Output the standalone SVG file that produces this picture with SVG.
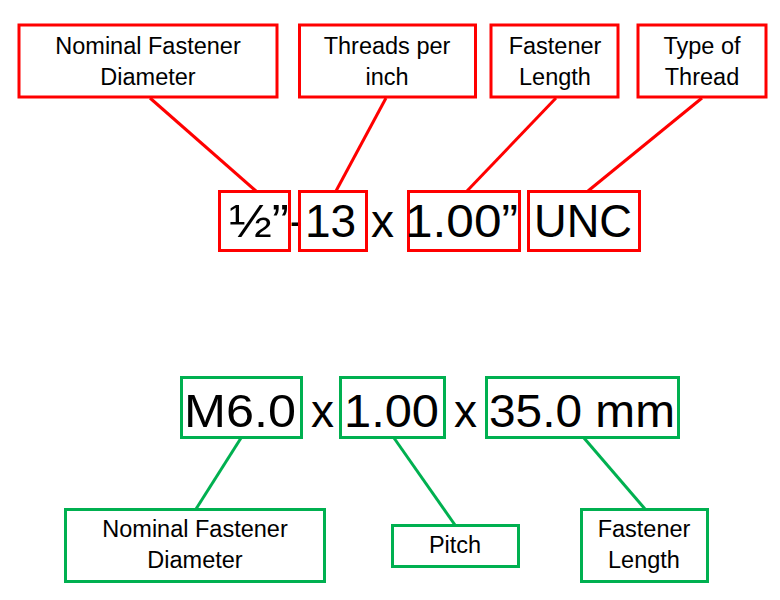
<svg xmlns="http://www.w3.org/2000/svg" width="780" height="600" viewBox="0 0 780 600">
<style>
.r{fill:#fff;stroke:#FF0000;stroke-width:3}
.g{fill:#fff;stroke:#00B050;stroke-width:3}
.vr{fill:none;stroke:#FF0000;stroke-width:3}
.vg{fill:none;stroke:#00B050;stroke-width:3}
.lr{stroke:#FF0000;stroke-width:3}
.lg{stroke:#00B050;stroke-width:3}
.s{font-family:"Liberation Sans",Arial,sans-serif;font-size:23.5px;fill:#000;text-anchor:middle}
.b{font-family:"Liberation Sans",Arial,sans-serif;font-size:46px;fill:#000}
</style>
<rect width="780" height="600" fill="#fff"/>
<g id="connectors">
<line class="lr" x1="150" y1="98" x2="256" y2="191"/>
<line class="lr" x1="386" y1="98" x2="336" y2="191"/>
<line class="lr" x1="556" y1="98" x2="467" y2="191"/>
<line class="lr" x1="702" y1="98" x2="588" y2="191"/>
<line class="lg" x1="241" y1="438" x2="196" y2="509"/>
<line class="lg" x1="394" y1="438" x2="455" y2="525"/>
<line class="lg" x1="584" y1="438" x2="645" y2="509"/>
</g>
<g id="label-nominal-top"><rect class="r" x="19" y="25" width="258" height="72"/><text class="s" x="148" y="54">Nominal Fastener</text><text class="s" x="148" y="85">Diameter</text></g>
<g id="label-threads"><rect class="r" x="299.5" y="25" width="176" height="72"/><text class="s" x="387" y="54">Threads per</text><text class="s" x="387" y="85">inch</text></g>
<g id="label-length-top"><rect class="r" x="491" y="25" width="127" height="72"/><text class="s" x="555" y="54">Fastener</text><text class="s" x="555" y="85">Length</text></g>
<g id="label-type"><rect class="r" x="638" y="25" width="128" height="72"/><text class="s" x="702" y="54">Type of</text><text class="s" x="702" y="85">Thread</text></g>
<g id="imperial">
<text class="b" x="229" y="237" textLength="60" lengthAdjust="spacingAndGlyphs">½”</text>
<text class="b" x="290" y="237" textLength="12" lengthAdjust="spacingAndGlyphs">-</text>
<rect class="vr" x="219.5" y="191.5" width="70" height="59"/>
<rect class="vr" x="299.5" y="191.5" width="67" height="59"/>
<text class="b" x="305" y="237">13</text>
<text class="b" x="371" y="237">x</text>
<rect class="vr" x="408.5" y="191.5" width="111" height="59"/>
<text class="b" x="405" y="237" textLength="113" lengthAdjust="spacingAndGlyphs">1.00”</text>
<rect class="vr" x="528.5" y="191.5" width="111" height="59"/>
<text class="b" x="534" y="237" textLength="98" lengthAdjust="spacingAndGlyphs">UNC</text>
</g>
<g id="metric">
<rect class="vg" x="181.5" y="377.5" width="120" height="60"/>
<text class="b" x="184" y="427" textLength="112" lengthAdjust="spacingAndGlyphs">M6.0</text>
<text class="b" x="311" y="427">x</text>
<rect class="vg" x="340.5" y="377.5" width="104" height="60"/>
<text class="b" x="344" y="427" textLength="95" lengthAdjust="spacingAndGlyphs">1.00</text>
<text class="b" x="454" y="427">x</text>
<rect class="vg" x="486.5" y="377.5" width="192" height="60"/>
<text class="b" x="489" y="427" textLength="186" lengthAdjust="spacingAndGlyphs">35.0 mm</text>
</g>
<g id="label-nominal-bottom"><rect class="g" x="65.5" y="509.5" width="259" height="72"/><text class="s" x="195" y="537">Nominal Fastener</text><text class="s" x="195" y="568">Diameter</text></g>
<g id="label-pitch"><rect class="g" x="392.5" y="525.5" width="126" height="41"/><text class="s" x="455" y="553">Pitch</text></g>
<g id="label-length-bottom"><rect class="g" x="581.5" y="509.5" width="126" height="72"/><text class="s" x="644" y="537">Fastener</text><text class="s" x="644" y="568">Length</text></g>
</svg>
